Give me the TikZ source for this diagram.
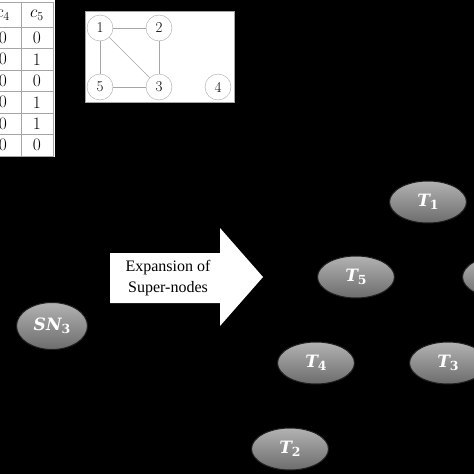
\documentclass[tikz,border=0pt]{standalone}
\usepackage{fontspec}
\newfontfamily\arrowfont{Liberation Serif}
\newfontfamily\labelfont{DejaVu Serif}
\usetikzlibrary{shapes.geometric}

\newcommand{\tlabel}[2]{\labelfont\fontsize{17}{18}\selectfont\bfseries\itshape #1\raisebox{-0.35ex}{\fontsize{12.5}{12}\selectfont\upshape #2}}

\tikzset{
  task/.style={ellipse, draw=gray!25!black, line width=1pt, top color=gray!60!white,
    middle color=gray!95!white, bottom color=gray!85!black, text=white,
    minimum width=77pt, minimum height=42pt, inner sep=0pt},
  vert/.style={circle, draw=gray!70, fill=white, minimum size=26pt, inner sep=0pt,
    font=\fontsize{15}{15}\selectfont},
  cell/.style={font=\fontsize{17.5}{17}\selectfont},
  grid/.style={draw=gray!70, line width=0.8pt}
}

\begin{document}
\begin{tikzpicture}[x=1pt, y=-1pt]

\useasboundingbox (0,0) rectangle (474,474);
\clip (0,0) rectangle (474,474);
\fill[black] (0,0) rectangle (474,474);

% table
\fill[white] (-20,0) rectangle (55,157);
\draw[grid] (-20,2) -- (53,2) -- (53,156) -- (-20,156);
\draw[grid] (21,2) -- (21,156);
\foreach \y in {27,48.5,70,91.5,113,134.5}
  \draw[grid] (-20,\y) -- (53,\y);

\node[cell] (h4) at (3,15) {$c_4$};
\node[cell] (h5) at (37,15) {$c_5$};
\foreach \v [count=\i] in {0,1,0,1,1,0} {
  \node[cell] (a\i) at (3,16.25+21.5*\i) {0};
  \node[cell] (b\i) at (37,16.25+21.5*\i) {\v};
}

% graph
\draw[fill=white, draw=gray!70] (85,11) rectangle (234,102);
\node[vert] (g1) at (100,28) {1};
\node[vert] (g2) at (159,28) {2};
\node[vert] (g5) at (100,87) {5};
\node[vert] (g3) at (159,87) {3};
\node[vert] (g4) at (218,87) {4};
\draw[gray!70] (g1) -- (g2);
\draw[gray!70] (g1) -- (g5);
\draw[gray!70] (g1) -- (g3);
\draw[gray!70] (g2) -- (g3);
\draw[gray!70] (g5) -- (g3);

% arrow
\fill[white] (110,253) -- (220,253) -- (220,228) -- (263,277) -- (220,326) -- (220,303) -- (110,303) -- cycle;
\node[align=center, font=\arrowfont\fontsize{16}{21}\selectfont] (expand) at (168,278)
  {Expansion of\\Super-nodes};

% super-node and tasks
\node[task, minimum width=71pt, minimum height=47pt] (sn3) at (52,326) {\tlabel{SN}{3}};
\node[task] (t1) at (428,202) {\tlabel{T}{1}};
\node[task] (t5) at (356,277) {\tlabel{T}{5}};
\node[task] (t6) at (501,277) {};
\node[task] (t4) at (316,363) {\tlabel{T}{4}};
\node[task] (t3) at (448,363) {\tlabel{T}{3}};
\node[task] (t2) at (290,449) {\tlabel{T}{2}};

\end{tikzpicture}
\end{document}
